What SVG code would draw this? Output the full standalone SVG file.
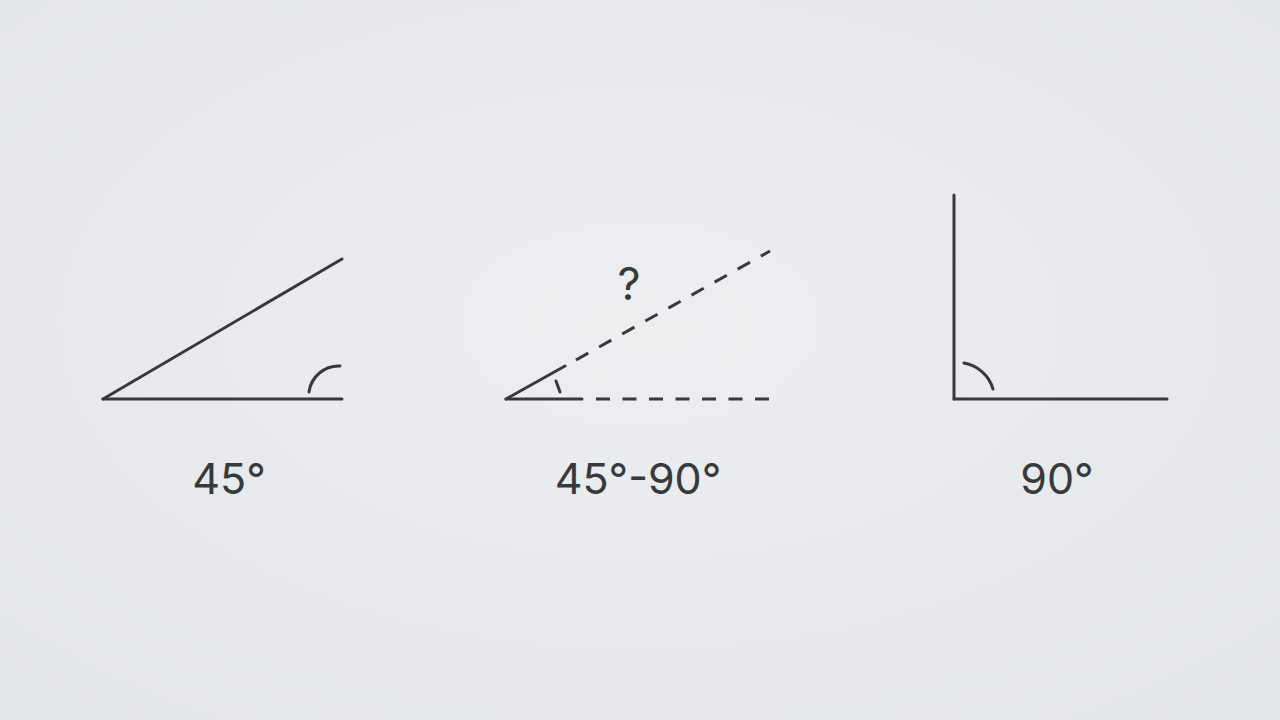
<svg xmlns="http://www.w3.org/2000/svg" width="1280" height="720" viewBox="0 0 1280 720">
  <defs>
    <radialGradient id="bg" cx="50%" cy="45%" r="75%">
      <stop offset="0" stop-color="#eceef0"/>
      <stop offset="1" stop-color="#e3e6e9"/>
    </radialGradient>
    <style>
      .ln { stroke: #36393d; stroke-width: 3; fill: none; stroke-linecap: round; }
      .dash { stroke-dasharray: 14 12.5; stroke-linecap: butt; }
      .lbl { font-family: Inter, "Liberation Sans", sans-serif; font-size: 43px; fill: #36393d; text-anchor: middle; }
      .q { font-family: Inter, "Liberation Sans", sans-serif; font-size: 45px; fill: #36393d; text-anchor: middle; }
    </style>
  </defs>
  <rect width="1280" height="720" fill="url(#bg)"/>

  <g id="angle-45">
    <line class="ln" x1="103" y1="399" x2="342" y2="399"/>
    <line class="ln" x1="103" y1="399" x2="342" y2="259"/>
    <path class="ln" d="M309 392 A30 30 0 0 1 340 366"/>
    <text class="lbl" x="229" y="494">45°</text>
  </g>

  <g id="angle-range">
    <line class="ln" x1="506" y1="399" x2="582" y2="399"/>
    <line class="ln" x1="506" y1="399" x2="565" y2="366"/>
    <line class="ln" x1="556" y1="381" x2="560" y2="392"/>
    <line class="ln dash" x1="596" y1="399" x2="770" y2="399"/>
    <line class="ln dash" x1="576" y1="360" x2="770" y2="251"/>
    <text class="q" x="629" y="300">?</text>
    <text class="lbl" x="638" y="494">45°-90°</text>
  </g>

  <g id="angle-90">
    <line class="ln" x1="954" y1="195" x2="954" y2="399"/>
    <line class="ln" x1="954" y1="399" x2="1167" y2="399"/>
    <path class="ln" d="M964 363 A37 37 0 0 1 993 389"/>
    <text class="lbl" x="1057" y="494">90°</text>
  </g>

  <g id="connectors"/>
</svg>
